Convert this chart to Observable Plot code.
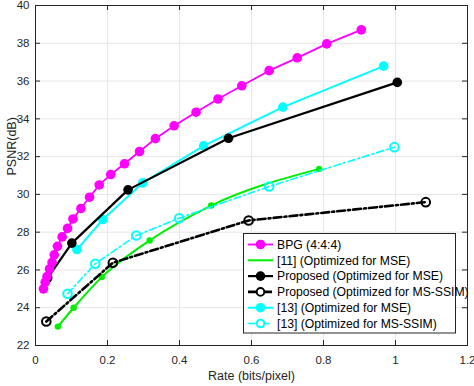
<!DOCTYPE html>
<html>
<head>
<meta charset="utf-8">
<script src="https://cdn.jsdelivr.net/npm/d3@7"></script>
<script src="https://cdn.jsdelivr.net/npm/@observablehq/plot@0.6"></script>
<style>
  html, body { margin: 0; padding: 0; background: white; }
  #chart { width: 474px; height: 386px; }
</style>
</head>
<body>
<div id="chart"></div>
<script>
// ---- data ----
const xTicks = [0, 0.2, 0.4, 0.6, 0.8, 1, 1.2];
const yTicks = [22, 24, 26, 28, 30, 32, 34, 36, 38, 40];
const xLabel = "Rate (bits/pixel)";
const yLabel = "PSNR(dB)";

const seriesNames = [
  "BPG (4:4:4)",
  "[11] (Optimized for MSE)",
  "Proposed (Optimized for MSE)",
  "Proposed (Optimized for MS-SSIM)",
  "[13] (Optimized for MSE)",
  "[13] (Optimized for MS-SSIM)"
];

const bpgRate = [0.022, 0.027, 0.032, 0.039, 0.046, 0.052, 0.061, 0.074, 0.089, 0.104, 0.126, 0.150, 0.177, 0.209, 0.247, 0.289, 0.333, 0.385, 0.446, 0.507, 0.573, 0.649, 0.727, 0.809, 0.905];
const bpgPsnr = [25.0, 25.35, 25.65, 26.05, 26.4, 26.8, 27.25, 27.75, 28.2, 28.7, 29.25, 29.85, 30.5, 31.05, 31.62, 32.27, 32.95, 33.63, 34.35, 35.05, 35.75, 36.55, 37.23, 37.97, 38.71];

const ref11MseRate = [0.062, 0.106, 0.184, 0.317, 0.488, 0.788];
const ref11MsePsnr = [23.0, 24.0, 25.62, 27.56, 29.41, 31.35];

const propMseRate = [0.034, 0.101, 0.257, 0.536, 1.005];
const propMsePsnr = [25.58, 27.42, 30.24, 32.97, 35.93];

const propSsimRate = [0.030, 0.215, 0.592, 1.084];
const propSsimPsnr = [23.27, 26.38, 28.62, 29.59];

const ref13MseRate = [0.115, 0.187, 0.298, 0.467, 0.687, 0.967];
const ref13MsePsnr = [27.08, 28.67, 30.61, 32.57, 34.62, 36.79];

const ref13SsimRate = [0.089, 0.166, 0.280, 0.399, 0.649, 0.997];
const ref13SsimPsnr = [24.74, 26.33, 27.82, 28.74, 30.42, 32.5];

// ---- styles (kept separate from data) ----
const styles = [
  {color: "#ff00ff", width: 1.8, dash: null, marker: "filled", r: 4.8, curve: "linear"},
  {color: "#00ee00", width: 2, dash: null, marker: "dot", r: 3.2, curve: "monotone-x"},
  {color: "#000000", width: 2.2, dash: null, marker: "filled", r: 4.8, curve: "linear"},
  {color: "#000000", width: 2.6, dash: "8,3,2,3", marker: "open", r: 4.3, curve: "linear"},
  {color: "#00ffff", width: 2, dash: null, marker: "filled", r: 4.8, curve: "linear"},
  {color: "#00ffff", width: 1.6, dash: "7,3,2,3", marker: "open", r: 4.3, curve: "linear"}
];

const rates = [bpgRate, ref11MseRate, propMseRate, propSsimRate, ref13MseRate, ref13SsimRate];
const psnrs = [bpgPsnr, ref11MsePsnr, propMsePsnr, propSsimPsnr, ref13MsePsnr, ref13SsimPsnr];

const tables = rates.map((rs, i) => rs.map((r, j) => ({rate: r, psnr: psnrs[i][j], series: seriesNames[i]})));

const order = [1, 5, 3, 4, 2, 0];
const seriesMarks = [];
for (const i of order) {
  const s = styles[i];
  seriesMarks.push(Plot.line(tables[i], {
    x: "rate", y: "psnr", stroke: s.color, strokeWidth: s.width,
    strokeDasharray: s.dash, curve: s.curve, strokeLinejoin: "round"
  }));
  if (s.marker === "filled" || s.marker === "dot") {
    seriesMarks.push(Plot.dot(tables[i], {x: "rate", y: "psnr", r: s.r, fill: s.color, stroke: "none"}));
  } else {
    seriesMarks.push(Plot.dot(tables[i], {x: "rate", y: "psnr", r: s.r, fill: "none", stroke: s.color, strokeWidth: 2}));
  }
}

const axisColor = "#262626";
const gridColor = "#e6e6e6";

const chart = Plot.plot({
  width: 474,
  height: 386,
  marginLeft: 35,
  marginRight: 7,
  marginTop: 5,
  marginBottom: 41,
  style: {fontFamily: "'Liberation Sans', Arial, sans-serif", fontSize: "11.5px", color: axisColor, background: "white"},
  x: {domain: [0, 1.2], label: null},
  y: {domain: [22, 40], label: null},
  marks: [
    Plot.gridX(xTicks, {stroke: gridColor, strokeOpacity: 1}),
    Plot.gridY(yTicks, {stroke: gridColor, strokeOpacity: 1}),
    ...seriesMarks,
    Plot.frame({stroke: axisColor, strokeWidth: 1}),
    Plot.tickX(xTicks, {x: d => d, insetTop: 335, stroke: axisColor}),
    Plot.tickX(xTicks, {x: d => d, insetBottom: 335, stroke: axisColor}),
    Plot.tickY(yTicks, {y: d => d, insetRight: 427, stroke: axisColor}),
    Plot.tickY(yTicks, {y: d => d, insetLeft: 427, stroke: axisColor}),
    Plot.axisX(xTicks, {tickSize: 0, tickPadding: 10, tickFormat: d => String(d), label: null, fill: axisColor}),
    Plot.axisY(yTicks, {tickSize: 0, tickPadding: 6, tickFormat: d => String(d), label: null, fill: axisColor}),
    Plot.text([xLabel], {frameAnchor: "bottom", dy: 34, text: d => d, fontSize: 12.5, fill: axisColor}),
    Plot.text([yLabel], {frameAnchor: "left", dx: -24, rotate: -90, text: d => d, fontSize: 12.5, fill: axisColor})
  ]
});

document.getElementById("chart").appendChild(chart);

// ---- legend (inside the axes, lower right) ----
const svg = d3.select(chart);
const lg = svg.append("g").attr("class", "legend").attr("text-anchor", "start");
const box = {x: 243.5, y: 233.5, w: 212, h: 99.5};
lg.append("rect").attr("x", box.x).attr("y", box.y).attr("width", box.w).attr("height", box.h)
  .attr("fill", "white").attr("stroke", axisColor).attr("stroke-width", 1);
const rowY0 = 244.5, rowStep = 15.8;
seriesNames.forEach((name, i) => {
  const s = styles[i];
  const y = rowY0 + i * rowStep;
  lg.append("line").attr("x1", 248).attr("x2", 273).attr("y1", y).attr("y2", y)
    .attr("stroke", s.color).attr("stroke-width", s.width)
    .attr("stroke-dasharray", s.dash ? s.dash : null);
  if (s.marker === "filled") {
    lg.append("circle").attr("cx", 260.5).attr("cy", y).attr("r", s.r).attr("fill", s.color);
  } else if (s.marker === "open") {
    lg.append("circle").attr("cx", 260.5).attr("cy", y).attr("r", s.r - 0.5).attr("fill", "white")
      .attr("stroke", s.color).attr("stroke-width", 2);
  }
  lg.append("text").attr("x", 277).attr("y", y).attr("dy", "0.35em").attr("text-anchor", "start")
    .attr("font-family", "'Liberation Sans', Arial, sans-serif").attr("font-size", 12.2)
    .attr("fill", "#000").text(name);
});
</script>
</body>
</html>
